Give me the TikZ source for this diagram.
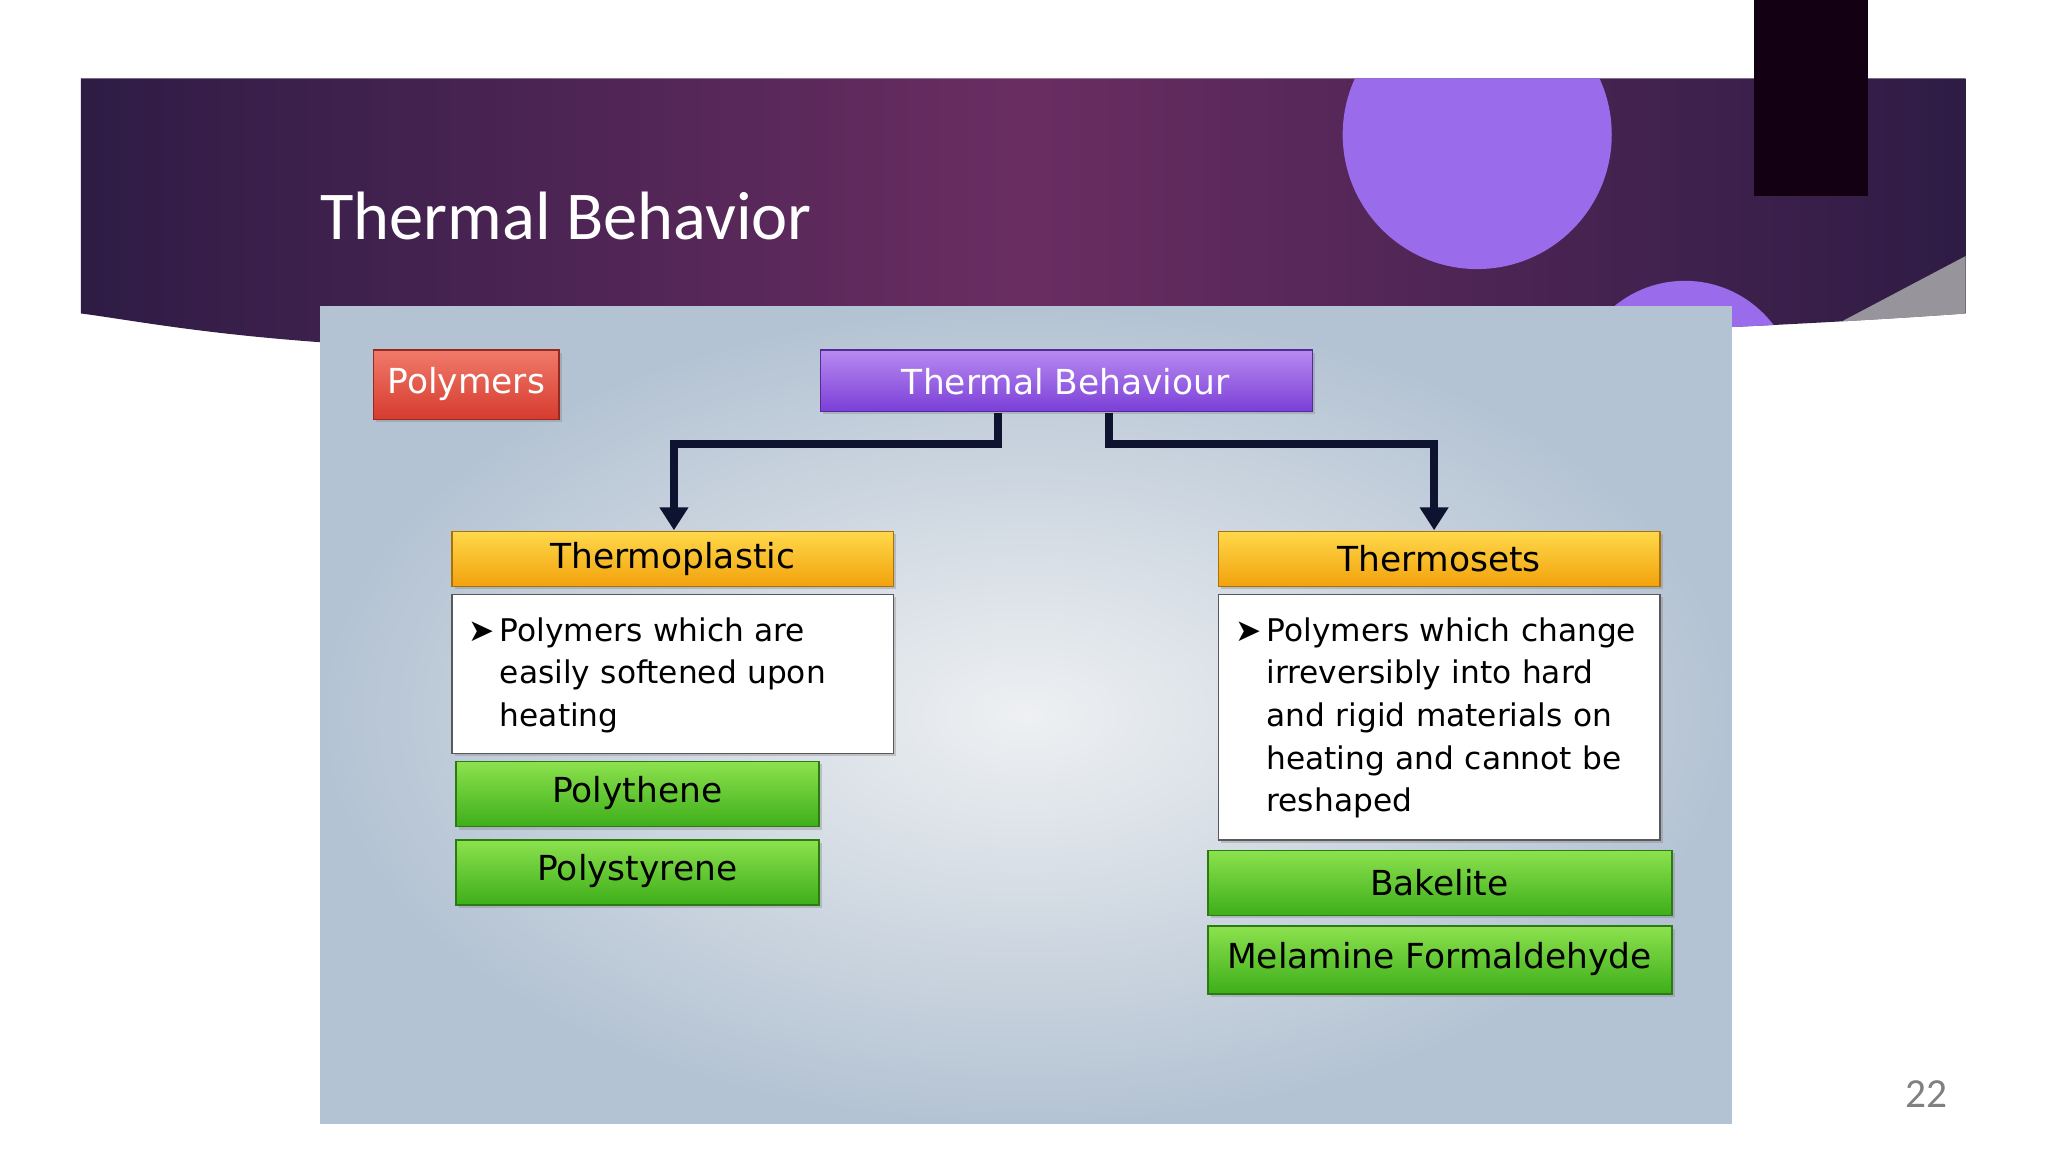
\documentclass[tikz,border=0pt]{standalone}
\usepackage{fontspec}
\setmainfont{DejaVu Sans}
\newfontfamily\calib{Carlito}
\usetikzlibrary{arrows.meta,shadows}
\definecolor{bandA}{HTML}{2E1C45}
\definecolor{bandB}{HTML}{6A2D62}
\definecolor{violetc}{HTML}{9A6BEA}
\definecolor{bgA}{HTML}{EEF0F2}
\definecolor{bgB}{HTML}{B4C3D3}
\definecolor{redA}{HTML}{F07A6A}
\definecolor{redB}{HTML}{D63B2E}
\definecolor{purA}{HTML}{B88AF0}
\definecolor{purB}{HTML}{7A3FD8}
\definecolor{orA}{HTML}{FFD84A}
\definecolor{orB}{HTML}{F2A20C}
\definecolor{grA}{HTML}{8CE24E}
\definecolor{grB}{HTML}{3DAE1A}
\definecolor{arr}{HTML}{0E1430}
\begin{document}
\begin{tikzpicture}[x=0.01cm,y=-0.01cm,
  box/.style={draw=#1!70!black,line width=0.3pt,drop shadow={opacity=0.35,shadow xshift=0.6pt,shadow yshift=-0.6pt}},
  lbl/.style={font=\fontsize{7.5}{9}\selectfont},
  btxt/.style={font=\fontsize{6.8}{9.3}\selectfont,align=left,anchor=north west,text width=3.2cm,inner sep=0pt},
  conn/.style={draw=arr,line width=1.6pt,-{Triangle[length=5pt,width=6pt]}}]
\useasboundingbox (0,0) rectangle (1568,882);
\fill[white] (0,0) rectangle (1568,882);
% banner
\begin{scope}
\clip (62,60) -- (1505,60) -- (1505,240) .. controls (1200,262) and (600,275) .. (245,262) .. controls (150,255) and (100,245) .. (62,240) -- cycle;
\shade[left color=bandA,right color=bandA,middle color=bandB] (62,60) rectangle (1505,280);
\fill[violetc] (1131,103) circle (103);
\fill[violetc] (1290,300) circle (85);
\fill[gray!60,opacity=0.8] (1380,262) -- (1505,196) -- (1505,262) -- cycle;
\end{scope}
\fill[black!85!violet] (1343,0) rectangle (1430,150);
\node[anchor=west,text=white,font=\calib\fontsize{14.9}{18}\selectfont] (title) at (233,165) {Thermal Behavior};
% inner picture
\shade[inner color=bgA,outer color=bgB] (245,235) rectangle (1326,860);
\node[font=\calib\fontsize{9}{10}\selectfont,text=gray] (pg) at (1475,838) {22};
% nodes
\shade[box=redB,top color=redA,bottom color=redB] (286,268) rectangle (428,321);
\node[lbl,text=white] (poly) at (357,294) {Polymers};
\shade[box=purB,top color=purA,bottom color=purB] (628,268) rectangle (1005,315);
\node[lbl,text=white] (tb) at (816,292) {Thermal Behaviour};
\shade[box=orB,top color=orA,bottom color=orB] (346,407) rectangle (684,449);
\node[lbl] (tp) at (515,428) {Thermoplastic};
\shade[box=orB,top color=orA,bottom color=orB] (933,407) rectangle (1271,449);
\node[lbl] (ts) at (1102,428) {Thermosets};
\filldraw[box=gray,fill=white] (346,455) rectangle (684,577);
\filldraw[box=gray,fill=white] (933,455) rectangle (1271,643);
\node[btxt] (t1) at (358,472) {\textbf{➤}\,Polymers which are\\\hspace*{0.24cm}easily softened upon\\\hspace*{0.24cm}heating};
\node[btxt] (t2) at (945,472) {\textbf{➤}\,Polymers which change\\\hspace*{0.24cm}irreversibly into hard\\\hspace*{0.24cm}and rigid materials on\\\hspace*{0.24cm}heating and cannot be\\\hspace*{0.24cm}reshaped};
\shade[box=grB,top color=grA,bottom color=grB] (349,583) rectangle (627,633);
\node[lbl] (pe) at (488,607) {Polythene};
\shade[box=grB,top color=grA,bottom color=grB] (349,643) rectangle (627,693);
\node[lbl] (ps) at (488,667) {Polystyrene};
\shade[box=grB,top color=grA,bottom color=grB] (925,651) rectangle (1280,701);
\node[lbl] (bk) at (1102,676) {Bakelite};
\shade[box=grB,top color=grA,bottom color=grB] (925,709) rectangle (1280,761);
\node[lbl] (mf) at (1102,734) {Melamine Formaldehyde};
% connectors
\coordinate (tbl) at (764,316);
\coordinate (tbr) at (849,316);
\coordinate (tpt) at (516,406);
\coordinate (tst) at (1098,406);
\draw[conn] (tbl) |- (640,340) -| (tpt);
\draw[conn] (tbr) |- (1000,340) -| (tst);
\end{tikzpicture}
\end{document}
